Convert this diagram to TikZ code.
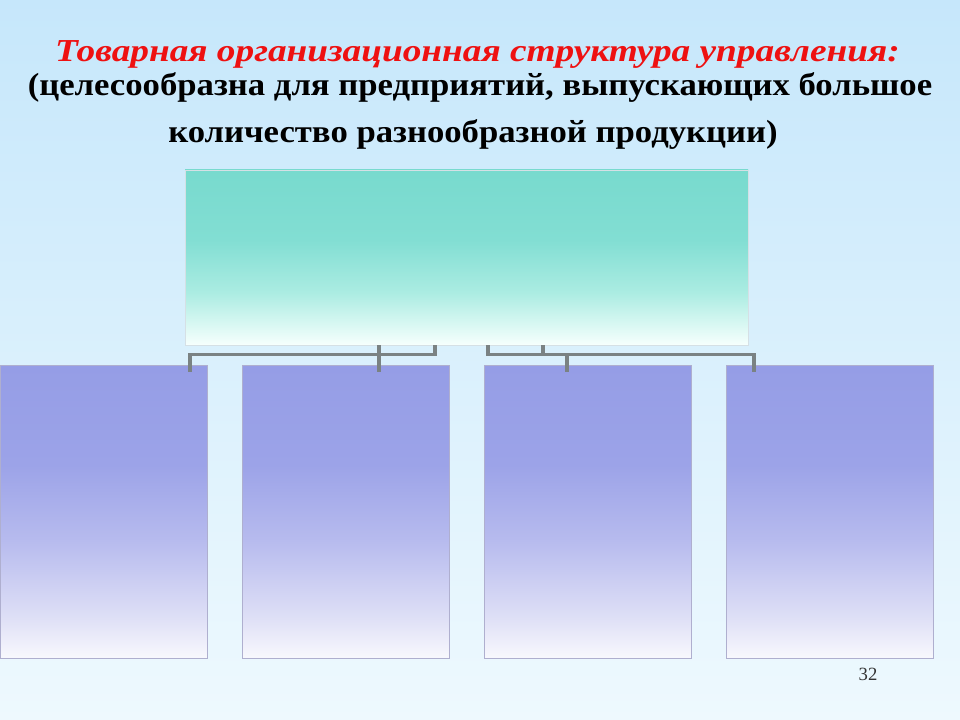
\documentclass[tikz,border=0pt]{standalone}
\usepackage{fontspec}
\setmainfont{Liberation Serif}
\newfontfamily\titlefont[FakeStretch=1.166]{Liberation Serif}
\newfontfamily\subfont[FakeStretch=1.084]{Liberation Serif}
\usetikzlibrary{calc,positioning}

\definecolor{bgtop}{HTML}{C6E7FB}
\definecolor{bgbot}{HTML}{EEF9FE}
\definecolor{headtop}{HTML}{78DACE}
\definecolor{headmid}{HTML}{82DED3}
\definecolor{headlow}{HTML}{ABECE2}
\definecolor{headbot}{HTML}{F6FFFD}
\definecolor{divtop}{HTML}{959DE6}
\definecolor{divmid}{HTML}{9CA3E8}
\definecolor{divlow}{HTML}{B7BBEE}
\definecolor{divpale}{HTML}{DEDFF6}
\definecolor{divbot}{HTML}{F8F8FD}
\definecolor{linkgray}{HTML}{7A8283}
\definecolor{titlered}{HTML}{EE1111}

% path runs from 25bp (bottom) to 75bp (top)
\pgfdeclareverticalshading{headfade}{100bp}{color(0bp)=(headbot); color(25bp)=(headbot);
    color(40bp)=(headlow); color(55bp)=(headmid); color(75bp)=(headtop); color(100bp)=(headtop)}
\pgfdeclareverticalshading{divfade}{100bp}{color(0bp)=(divbot); color(25bp)=(divbot); color(32bp)=(divpale);
    color(45bp)=(divlow); color(58bp)=(divmid); color(75bp)=(divtop); color(100bp)=(divtop)}

\tikzset{
    headbox/.style={draw=cyan!25!gray!30, line width=0.6pt, minimum width=422.25pt, minimum height=131.25pt,
        shading=headfade, inner sep=0pt},
    divbox/.style={draw=blue!25!gray!50, line width=0.6pt, minimum width=155.25pt, minimum height=219.75pt,
        shading=divfade, inner sep=0pt},
    link/.style={draw=linkgray, line width=2.3pt},
    titletext/.style={font=\titlefont\fontsize{24}{28}\selectfont\bfseries\itshape, text=titlered, inner sep=0pt},
    subtext/.style={font=\subfont\fontsize{24}{28}\selectfont\bfseries, inner sep=0pt}
}

\begin{document}
\begin{tikzpicture}[x=0.75pt, y=-0.75pt]
    % --- Background ---
    \useasboundingbox (0,0) rectangle (960,720);
    \shade[top color=bgtop, bottom color=bgbot] (0,0) rectangle (960,720);
    % ---

    % --- Title ---
    \node[titletext, anchor=base] (title) at (477.5,61.5) {Товарная организационная структура управления:};
    \node[subtext, anchor=base] (sub1) at (480,96) {(целесообразна для предприятий, выпускающих большое};
    \node[subtext, anchor=base] (sub2) at (473,143) {количество разнообразной продукции)};
    % ---

    % --- Boxes ---
    \node[headbox] (head) at (466.5,257.5) {};
    \node[divbox] (div1) at (103.5,511.5) {};
    \node[divbox] (div2) at (346,511.5) {};
    \node[divbox] (div3) at (587.5,511.5) {};
    \node[divbox] (div4) at (829.5,511.5) {};
    % ---

    % --- Connectors ---
    \draw[link] ($(head.south)+(-31.5,0)$) |- ($(div1.north)+(86.5,-10)$) -- ($(div1.north)+(86.5,7)$);
    \draw[link] ($(head.south)+(-87.5,0)$) -- ($(div2.north)+(33,7)$);
    \draw[link] ($(head.south)+(21.5,0)$) |- ($(div4.north)+(-75.5,-10)$) -- ($(div4.north)+(-75.5,7)$);
    \draw[link] ($(head.south)+(76.5,0)$) -- ($(head.south)+(76.5,10)$);
    \draw[link] ($(div3.north)+(-20.5,-10)$) -- ($(div3.north)+(-20.5,7)$);
    % ---

    \node[font=\fontsize{14}{16}\selectfont, text=black!80] (page) at (868,674) {32};
\end{tikzpicture}
\end{document}
